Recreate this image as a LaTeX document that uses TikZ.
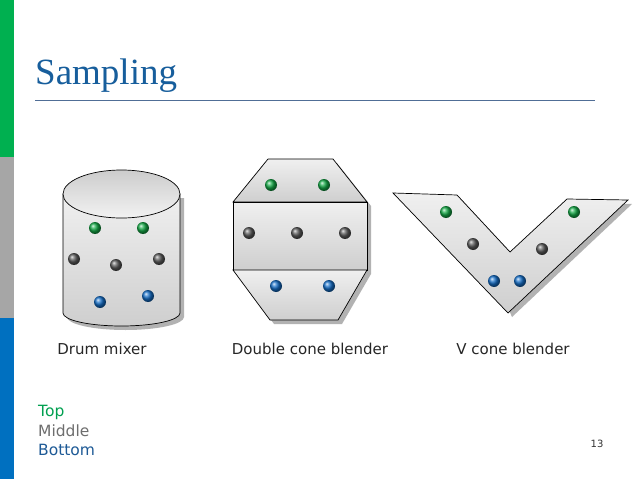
\documentclass[tikz,border=0pt]{standalone}
\usepackage{fontspec}
\setmainfont{Liberation Serif}
\newfontfamily\vsans{DejaVu Sans}
\definecolor{tgreen}{RGB}{0,176,80}
\definecolor{tgray}{RGB}{166,166,166}
\definecolor{tblue}{RGB}{0,112,192}
\definecolor{ttitle}{RGB}{23,94,156}
\definecolor{tline}{RGB}{80,110,150}
\definecolor{bgreen}{RGB}{20,170,70}
\definecolor{bgray}{RGB}{90,90,90}
\definecolor{bblue}{RGB}{20,110,200}
\definecolor{lgtext}{RGB}{0,160,80}
\definecolor{lmtext}{RGB}{110,110,110}
\definecolor{lbtext}{RGB}{30,90,150}
\tikzset{x=1pt,y=-1pt,
 vessel/.style={draw=black,line width=0.7pt,top color=gray!12,bottom color=gray!38},
 shad/.style={fill=gray!60,draw=none},
 ball/.style={circle,minimum size=12pt,inner sep=0pt,ball color=#1,draw=none},
 lab/.style={font=\vsans\fontsize{15}{18}\selectfont,text=black!85},
 leg/.style={font=\vsans\fontsize{15.5}{18}\selectfont,anchor=west,inner sep=0pt}}
\begin{document}
\begin{tikzpicture}
\useasboundingbox (0,0) rectangle (638,479);
\fill[white] (0,0) rectangle (638,479);
\fill[tgreen] (0,0) rectangle (14,157);
\fill[tgray] (0,157) rectangle (14,318);
\fill[tblue] (0,318) rectangle (14,479);
\node[anchor=west,inner sep=0pt,text=ttitle,font=\fontsize{37}{40}\selectfont] (title) at (35,76) {Sampling};
\draw[tline,line width=1pt] (35,100) -- (595,100);
% drum
\fill[shad] (67,198) -- (184,198) -- (184,317) arc[start angle=0,end angle=180,x radius=58.5,y radius=13] -- cycle;
\path[vessel] (63,194) -- (63,313) arc[start angle=180,end angle=0,x radius=58.5,y radius=13] -- (180,194) -- cycle;
\draw[vessel,top color=gray!40,bottom color=gray!10] (121.5,194) ellipse[x radius=58.5,y radius=24];
% double cone
\fill[shad] (272,163) -- (337,163) -- (371,206) -- (371,274) -- (342,324) -- (274,324) -- (237,274) -- (237,206) -- cycle;
\path[vessel] (268,159) -- (333,159) -- (367,202) -- (233,202) -- cycle;
\path[vessel] (233,202) rectangle (367,270);
\path[vessel] (233,270) -- (367,270) -- (338,320) -- (270,320) -- cycle;
% V
\fill[shad] (461,199) -- (514,256) -- (571,203) -- (632,204) -- (512,317) -- cycle;
\path[vessel] (393,193) -- (457,195) -- (510,252) -- (567,199) -- (628,200) -- (508,313) -- cycle;
% balls
\foreach \n/\x/\y/\c in {a/95/228/bgreen,b/143/228/bgreen,c/74/259/bgray,d/116/265/bgray,e/159/259/bgray,f/100/302/bblue,g/148/296/bblue,
 h/271/185/bgreen,i/324/185/bgreen,j/249/233/bgray,k/297/233/bgray,l/345/233/bgray,m/276/286/bblue,n/329/286/bblue,
 o/446/212/bgreen,p/574/212/bgreen,q/473/244/bgray,r/542/249/bgray,s/494/281/bblue,t/520/281/bblue}
  \node[ball=\c] (b\n) at (\x,\y) {};
\node[lab] (l1) at (102,349) {Drum mixer};
\node[lab] (l2) at (310,349) {Double cone blender};
\node[lab] (l3) at (513,349) {V cone blender};
\node[leg,text=lgtext] (t1) at (38,412) {Top};
\node[leg,text=lmtext] (t2) at (38,431) {Middle};
\node[leg,text=lbtext] (t3) at (38,450) {Bottom};
\node[font=\vsans\fontsize{10}{12}\selectfont,text=black!80] (pg) at (597,444) {13};
\end{tikzpicture}
\end{document}
